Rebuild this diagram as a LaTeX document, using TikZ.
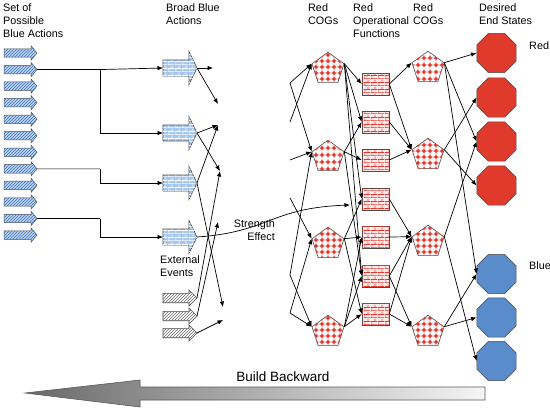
\documentclass[tikz,border=0pt]{standalone}
\usepackage{fontspec}
\setmainfont{Liberation Sans}
\usetikzlibrary{shapes.geometric,patterns,patterns.meta,arrows.meta}
\definecolor{outl}{HTML}{4A4A4A}
\definecolor{redfill}{HTML}{E03A2C}
\definecolor{bluefill}{HTML}{5A8CCB}
\definecolor{dotred}{HTML}{E8352B}
\definecolor{lblue}{HTML}{BCD5F2}
\definecolor{sblue}{HTML}{3D70B8}
\definecolor{bblue}{HTML}{A6C7EE}
\tikzdeclarepattern{
  name=brk,
  type=uncolored,
  bounding box={(0pt,0pt) and (7pt,7pt)},
  tile size={(7pt,7pt)},
  code={
    \draw[line width=0.75pt] (0pt,0.35pt) -- (7pt,0.35pt) (0pt,3.85pt) -- (7pt,3.85pt)
      (1pt,0.35pt) -- (1pt,3.85pt) (4.5pt,3.85pt) -- (4.5pt,7pt);
  }
}
\tikzdeclarepattern{
  name=rdots,
  type=uncolored,
  bounding box={(0pt,0pt) and (6.4pt,6.4pt)},
  tile size={(6.4pt,6.4pt)},
  code={
    \fill (3.2pt,3.2pt) circle (1.8pt);
    \fill (0.7pt,2.6pt) rectangle (5.7pt,3.8pt);
    \fill (2.6pt,0.7pt) rectangle (3.8pt,5.7pt);
  }
}
% arrow shape: name, style, x0, x1 (head base), x2 (tip), y, body half height, head half height
\newcommand{\mkarr}[8]{%
  \path[#2] ({#3},{#6-#7}) -- ({#4},{#6-#7}) -- ({#4},{#6-#8}) -- ({#5},{#6}) --
    ({#4},{#6+#8}) -- ({#4},{#6+#7}) -- ({#3},{#6+#7}) -- cycle;
  \node[inner sep=0pt, outer sep=0pt, minimum width={(#5-#3)*1pt},
    minimum height={2*#7*1pt}] (#1) at ({(#3+#5)/2},{#6}) {};
}
\begin{document}
\begin{tikzpicture}[x=1pt,y=-1pt,
  arr/.style={draw=black, line width=0.7pt, -{Latex[length=5.5pt,width=4.5pt]}},
  ln/.style={draw=black, line width=0.7pt},
  lbl/.style={inner sep=0pt, anchor=north west, align=left, font=\fontsize{10.8}{13}\selectfont},
  pent/.style={regular polygon, regular polygon sides=5, minimum size=33.6pt, inner sep=0pt,
    draw=outl, line width=0.6pt, fill=white, postaction={pattern=rdots, pattern color=dotred}},
  oct/.style={regular polygon, regular polygon sides=8, minimum size=42.5pt, inner sep=0pt,
    draw=outl, line width=0.6pt},
  rbrick/.style={rectangle, minimum width=27pt, minimum height=22pt, inner sep=0pt,
    draw=outl, line width=0.6pt, fill=red!7, postaction={pattern=brk, pattern color=dotred}},
  lshape/.style={draw=outl, line width=0.5pt, fill=lblue, postaction={pattern=north east lines, pattern color=sblue}},
  bshape/.style={draw=outl, line width=0.6pt, fill=bblue, postaction={pattern=brk, pattern color=white}},
  gshape/.style={draw=outl, line width=0.6pt, fill=white, postaction={pattern=north east lines, pattern color=gray!80!black}},
]
\useasboundingbox (0,0) rectangle (550,408);

% ---- labels
\node[lbl] (t1) at (3,3) {Set of\\Possible\\Blue Actions};
\node[lbl] (t2) at (166,3) {Broad Blue\\Actions};
\node[lbl] (t3) at (308,3) {Red\\COGs};
\node[lbl] (t4) at (353,3) {Red\\Operational\\Functions};
\node[lbl] (t5) at (413,3) {Red\\COGs};
\node[lbl] (t6) at (479,3) {Desired\\End States};
\node[lbl] (t7) at (529,41) {Red};
\node[lbl] (t8) at (529,261) {Blue};
\node[lbl] (t9) at (160,255) {External\\Events};
\node[lbl, anchor=north east, align=right] (t10) at (275,219) {Strength\\Effect};

% ---- left arrows
\foreach \i in {1,...,12}{
  \pgfmathsetmacro\yy{53+16.55*(\i-1)}
  \mkarr{L\i}{lshape}{4}{31}{37}{\yy}{4.2}{7.2}
}
% ---- broad blue arrows
\mkarr{B1}{bshape}{163}{189}{197}{68}{8}{16.5}
\mkarr{B2}{bshape}{163}{189}{197}{133}{8}{16.5}
\mkarr{B3}{bshape}{163}{189}{197}{183}{8}{16.5}
\mkarr{B4}{bshape}{163}{189}{197}{237}{8}{16.5}
% ---- external events
\mkarr{G1}{gshape}{163}{189}{197}{298}{4.7}{8}
\mkarr{G2}{gshape}{163}{189}{197}{316}{4.7}{8}
\mkarr{G3}{gshape}{163}{189}{197}{333}{4.7}{8}

% ---- red COGs
\node[pent] (P1) at (328,69) {};
\node[pent] (P2) at (328,157) {};
\node[pent] (P3) at (328,244) {};
\node[pent] (P4) at (328,332) {};
\node[pent] (Q1) at (428,68) {};
\node[pent] (Q2) at (428,155) {};
\node[pent] (Q3) at (428,242) {};
\node[pent] (Q4) at (428,332) {};
% ---- red operational functions
\foreach \i/\y in {1/84,2/122,3/160,4/199,5/237,6/276,7/314}
  \node[rbrick] (R\i) at (375.5,\y) {};
% ---- end states
\foreach \i/\y in {1/53,2/97.5,3/141.5,4/185.5}
  \node[oct, fill=redfill] (E\i) at (496.5,\y) {};
\foreach \i/\y in {1/274,2/317.5,3/361}
  \node[oct, fill=bluefill] (F\i) at (496.5,\y) {};

% ---- coordinates
\coordinate (j1) at (100,69.55);
\coordinate (j2) at (100,168.85);
\coordinate (j3) at (100,218.5);
\coordinate (e1) at (213,68);
\coordinate (e2) at (218,104);
\coordinate (e3) at (218,125);
\coordinate (e4) at (220,171);
\coordinate (e5) at (223,307);
\coordinate (e6) at (218,222);
\coordinate (e7) at (223,320);
\coordinate (e8) at (350,205);
\coordinate (k1) at (290,83);
\coordinate (k2) at (290,122);
\coordinate (k3) at (290,160);
\coordinate (k4) at (290,198);
\coordinate (k5) at (290,275);
\coordinate (k6) at (290,313);

% ---- left tree
\draw[ln] (L2.east) -- (j1);
\draw[arr] (j1) -- (B1.west);
\draw[arr] (j1) |- (B2.west);
\draw[ln] (L8.east) -- (j2);
\draw[arr] (j2) |- (B3.west);
\draw[ln] (L11.east) -- (j3);
\draw[arr] (j3) |- (B4.west);

% ---- from broad actions and events
\draw[arr] (B1.east) -- (e1);
\draw[arr] (B1.east) -- (e2);
\draw[arr] (B2.east) -- (e3);
\draw[arr] (B2.east) -- (e4);
\draw[arr] (B3.east) -- (e3);
\draw[arr] (B3.east) -- (e5);
\draw[arr] (G1.east) -- (e4);
\draw[arr] (G2.east) -- (e6);
\draw[arr] (G3.east) -- (e7);
\draw[arr] (B4.east) .. controls (270,232) and (270,208) .. (e8);

% ---- into red COGs
\draw[arr] (k1) -- (P1.corner 2);
\draw[arr] (k1) -- (P2.corner 2);
\draw[arr] (k2) -- (P1.corner 2);
\draw[arr] (k3) -- (P2.corner 2);
\draw[arr] (k4) -- (P3.corner 2);
\draw[arr] (k5) -- (P2.corner 2);
\draw[arr] (k5) -- (P4.corner 2);
\draw[arr] (k6) -- (P3.corner 2);
\draw[arr] (k6) -- (P4.corner 2);

% ---- network
\foreach \a/\b in {P1/R1,P1/R2,P1/R4,P1/R6,P2/R2,P2/R3,P2/R6,P3/R4,P3/R5,P3/R7,P4/R5,P4/R6,P4/R7}
  \draw[arr] (\a.corner 5) -- (\b.west);
\foreach \a/\b in {R1/Q1,R1/Q2,R2/Q2,R3/Q2,R4/Q3,R5/Q3,R6/Q3,R6/Q4,R7/Q3,R7/Q4}
  \draw[arr] (\a.east) -- (\b.corner 2);
\foreach \a/\b in {Q1/E1,Q1/E3,Q1/F1,Q2/E2,Q2/E4,Q3/E3,Q3/F3,Q4/F1,Q4/F2}
  \draw[arr] (\a.corner 5) -- (\b.west);

% ---- build backward
\shade[left color={rgb,255:red,105;green,105;blue,105}, right color={rgb,255:red,245;green,245;blue,245},
  draw=gray!70!black, line width=0.6pt]
  (485,387) -- (140,387) -- (140,380) -- (25,393) -- (140,407) -- (140,400) -- (485,400) -- cycle;
\node[inner sep=0pt, font=\fontsize{13.5}{16}\selectfont] (bb) at (283,377) {Build Backward};
\end{tikzpicture}
\end{document}
